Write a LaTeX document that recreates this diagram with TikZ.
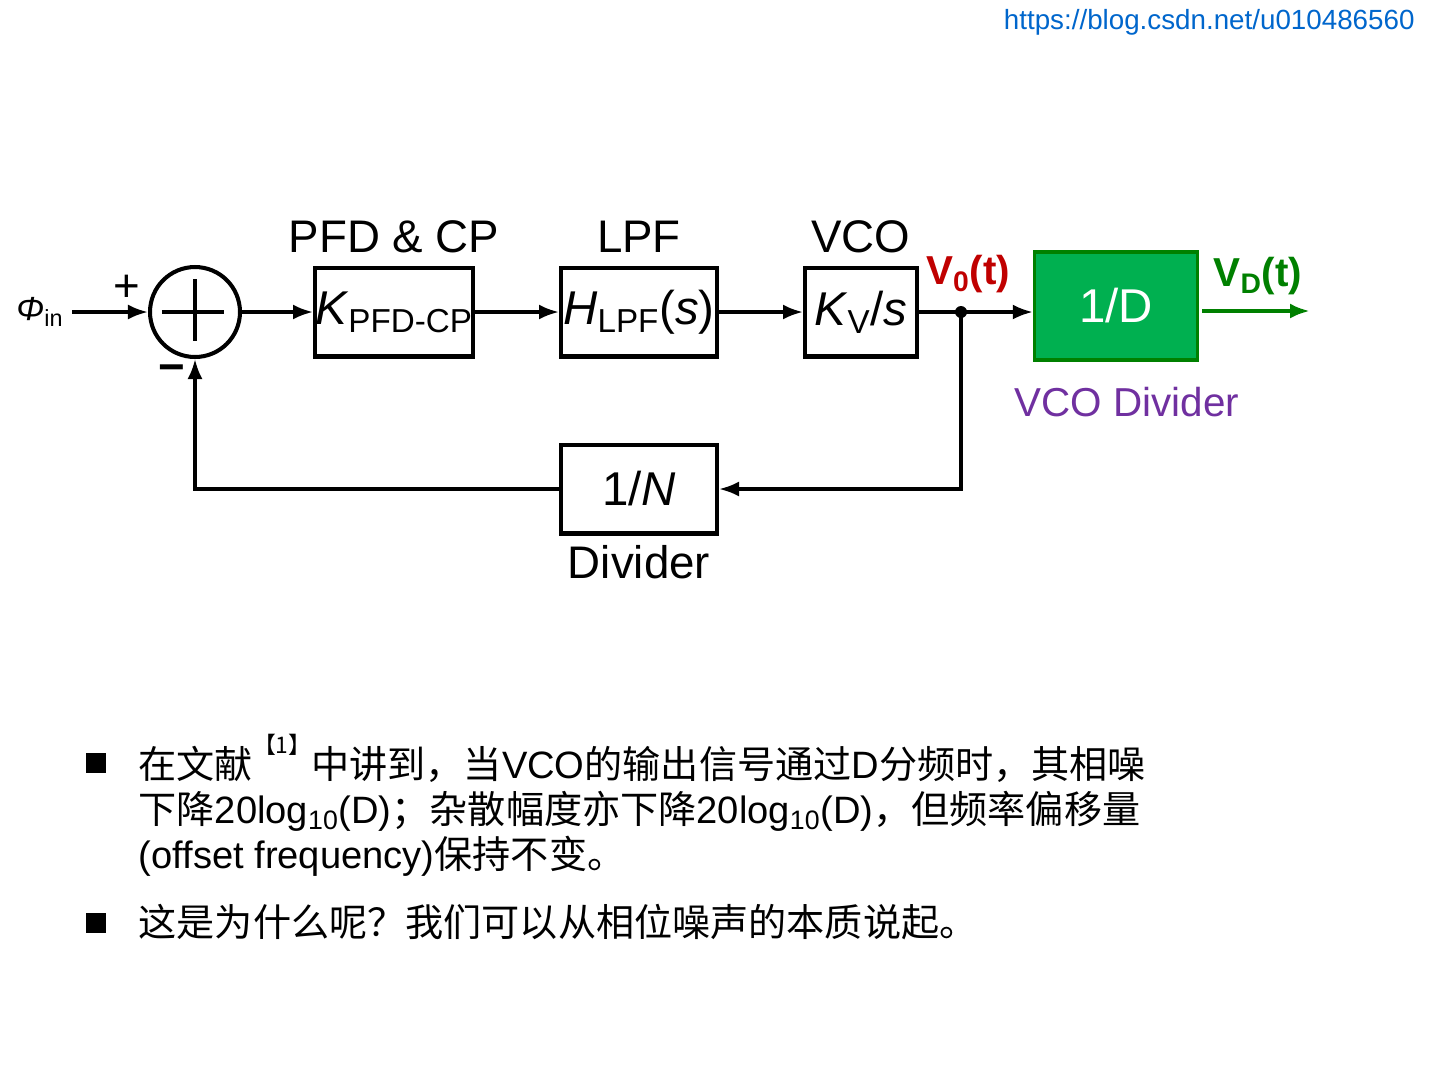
\documentclass[tikz,border=0pt]{standalone}
\usepackage{fontspec}
\setmainfont{Liberation Sans}
\newfontfamily\cjk{Noto Sans CJK SC}
\usetikzlibrary{arrows.meta}
\usetikzlibrary{calc, positioning}
\definecolor{vgreen}{RGB}{0,176,80}
\definecolor{dgreen}{RGB}{0,128,0}
\definecolor{vred}{RGB}{192,0,0}
\definecolor{vpurple}{RGB}{112,48,160}
\definecolor{urlblue}{RGB}{0,102,204}
\tikzstyle{blk}=[rectangle, draw, line width=2.3pt, minimum width=3.12cm, minimum height=1.78cm, inner sep=0pt, font=\fontsize{27pt}{30pt}\selectfont]
\tikzstyle{lbl}=[font=\fontsize{26pt}{28pt}\selectfont]
\tikzstyle{txt}=[anchor=base west, font=\fontsize{21.7pt}{24pt}\selectfont, inner sep=0pt]

\begin{document}
\begin{tikzpicture}[x=0.02cm, y=-0.02cm]
\tikzset{>={Latex[length=4mm, width=3mm]}}
\tikzset{every path/.style={line width=1.9pt}}

\useasboundingbox (0,0) rectangle (1435,1080);

\node[anchor=east, text=urlblue, font=\fontsize{15.8pt}{17pt}\selectfont] (url) at (1422,22) {https://blog.csdn.net/u010486560};

% forward path
\node[font=\fontsize{19pt}{20pt}\selectfont] (phi) at (40,312) {\textit{Φ}\textsubscript{in}};
\node[circle, draw, line width=2.3pt, minimum size=1.8cm, inner sep=0pt] (sum) at (195,312) {};
\draw[line width=2.3pt] (sum.north) ++(0,14) -- ++(0,62);
\draw[line width=2.3pt] (sum.west) ++(14,0) -- ++(62,0);
\node[lbl] (plus) at (127,288) {+};
\node[lbl] (minus) at (172,374) {\textbf{−}};

\node[blk] (pfd) at (394,312) {\textit{K}\textsubscript{PFD-CP}};
\node[blk] (lpf) at (639,312) {\textit{H}\textsubscript{LPF}(\textit{s})};
\node[blk, minimum width=2.24cm] (vco) at (861,312) {\textit{K}\textsubscript{V}/\textit{s}};
\node[lbl, above=0.1cm of pfd] (pfdl) {PFD \& CP};
\node[lbl, above=0.1cm of lpf] (lpfl) {LPF};
\node[lbl, above=0.1cm of vco] (vcol) {VCO};

\coordinate (in) at (72,312);
\draw[->] (in) -- (sum);
\draw[->] (sum) -- (pfd);
\draw[->] (pfd) -- (lpf);
\draw[->] (lpf) -- (vco);

% VCO divider
\node[rectangle, draw=dgreen, fill=vgreen, minimum width=3.26cm, minimum height=2.16cm, text=white, font=\fontsize{27pt}{30pt}\selectfont] (div) at (1116,306) {1/D};
\coordinate (tap) at (961,312);
\fill (tap) circle (6);
\draw[->] (vco) -- (div.west |- tap);
\node[text=vred, font=\bfseries\fontsize{23pt}{26pt}\selectfont] (v0) at (968,274) {V\textsubscript{0}(t)};
\coordinate (out) at (1310,311);
\draw[->, dgreen, line width=2.6pt] (1202,311) -- (out);
\node[text=dgreen, font=\bfseries\fontsize{23pt}{26pt}\selectfont] (vd) at (1258,276) {V\textsubscript{D}(t)};
\node[text=vpurple, font=\fontsize{23pt}{26pt}\selectfont] (divl) at (1127,402) {VCO Divider};

% feedback
\node[blk] (fb) at (639,489) {1/\textit{N}};
\node[lbl, below=0.05cm of fb] (fbl) {Divider};
\draw[->] (tap) |- (fb);
\draw[->] (fb) -| (sum);

% text
\fill (86,753) rectangle (106,773);
\node[txt] (t1) at (137,778) {{\cjk 在文献}\raisebox{1.2ex}{\fontsize{13pt}{14pt}\selectfont\cjk【1】}{\cjk 中讲到，当}VCO{\cjk 的输出信号通过}D{\cjk 分频时，其相噪}};
\node[txt] (t2) at (137,823) {{\cjk 下降}20log\textsubscript{10}(D){\cjk ；杂散幅度亦下降}20log\textsubscript{10}(D){\cjk ，但频率偏移量}};
\node[txt] (t3) at (137,868) {(offset frequency){\cjk 保持不变。}};
\fill (86,913) rectangle (106,933);
\node[txt] (t4) at (137,936) {{\cjk 这是为什么呢？我们可以从相位噪声的本质说起。}};
\end{tikzpicture}
\end{document}
